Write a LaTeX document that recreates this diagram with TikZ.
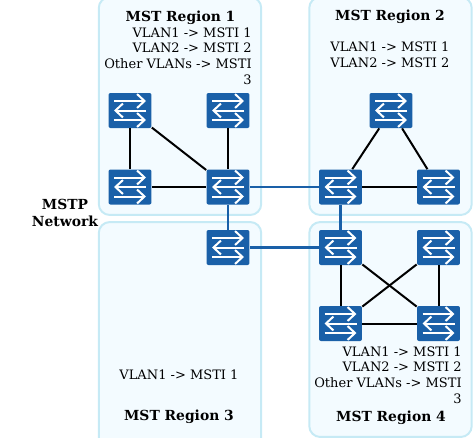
\documentclass[tikz,border=0pt]{standalone}
\usepackage{fontspec}
\setmainfont{DejaVu Serif}
\usepackage{xcolor}
\usetikzlibrary{arrows.meta}
\definecolor{regionfill}{HTML}{F3FBFF}
\definecolor{regionline}{HTML}{C6EAF5}
\definecolor{switchblue}{HTML}{1A60A8}

\begin{document}
\begin{tikzpicture}[
  x=0.02cm, y=-0.02cm,
  region/.style={
    draw=regionline,
    fill=regionfill,
    line width=0.04cm,
    rounded corners=0.22cm,
    minimum width=3.25cm,
    inner sep=0pt
  },
  switchbox/.style={
    fill=switchblue,
    rounded corners=0.04cm,
    minimum width=0.86cm,
    minimum height=0.7cm,
    inner sep=0pt,
    path picture={
      \begin{scope}[shift={(path picture bounding box.center)}, white, line width=0.04cm,
          swarrow/.style={-{Straight Barb[length=0.15cm,width=0.28cm,line width=0.04cm]}}]
        \draw[swarrow] (-16,-9.5) -- (16,-9.5);
        \draw[swarrow] (16,0) -- (-16,0);
        \draw[swarrow] (-16,9.5) -- (16,9.5);
      \end{scope}
    }
  },
  link/.style={black, line width=0.04cm},
  trunk/.style={switchblue, line width=0.05cm},
  title/.style={font=\fontsize{7.9}{10}\selectfont\bfseries, inner sep=0pt},
  vlan/.style={font=\fontsize{7.4}{9}\selectfont, inner sep=0pt}
]
  \useasboundingbox (0,0) rectangle (474,437);

  % regions
  \node[region, minimum height=4.36cm] (regionone) at (180,106) {};
  \node[region, minimum height=4.36cm] (regiontwo) at (390.5,106) {};
  \node[region, minimum height=4.6cm] (regionthree) at (180,337) {};
  \node[region, minimum height=4.3cm] (regionfour) at (390.5,329.5) {};

  % switches
  \node[switchbox] (swa) at (130,110.5) {};
  \node[switchbox] (swb) at (228,110.5) {};
  \node[switchbox] (swc) at (130,187) {};
  \node[switchbox] (swd) at (228,187) {};
  \node[switchbox] (swe) at (391,110.5) {};
  \node[switchbox] (swf) at (340.5,187) {};
  \node[switchbox] (swg) at (438.5,187) {};
  \node[switchbox] (swh) at (228,247.5) {};
  \node[switchbox] (swi) at (340.5,247.5) {};
  \node[switchbox] (swj) at (438.5,247.5) {};
  \node[switchbox] (swk) at (340.5,323.5) {};
  \node[switchbox] (swl) at (438.5,323.5) {};

  \draw[link] (swa) -- (swc);
  \draw[link] (swa) -- (swd);
  \draw[link] (swb) -- (swd);
  \draw[link] (swc) -- (swd);
  \draw[link] (swe) -- (swf);
  \draw[link] (swe) -- (swg);
  \draw[link] (swf) -- (swg);
  \draw[link] (swi) -- (swk);
  \draw[link] (swi) -- (swl);
  \draw[link] (swj) -- (swk);
  \draw[link] (swj) -- (swl);
  \draw[link] (swk) -- (swl);

  \draw[trunk] (swd) -- (swf);
  \draw[trunk] (swd) -- (swh);
  \draw[trunk] (swf) -- (swi);
  \draw[trunk] (swh) -- (swi);

  % labels
  \node[title] (titleone) at (180.5,18) {MST Region 1};
  \node[title] (titletwo) at (390,17) {MST Region 2};
  \node[title] (titlethree) at (179,417) {MST Region 3};
  \node[title] (titlefour) at (391,418) {MST Region 4};
  \node[vlan, align=right, anchor=east] (vlanone) at (252,56) {VLAN1 -> MSTI 1\\VLAN2 -> MSTI 2\\Other VLANs -> MSTI\\3};
  \node[vlan, align=center] (vlantwo) at (390,55) {VLAN1 -> MSTI 1\\VLAN2 -> MSTI 2};
  \node[vlan] (vlanthree) at (179,375) {VLAN1 -> MSTI 1};
  \node[vlan, align=right, anchor=east] (vlanfour) at (462,375) {VLAN1 -> MSTI 1\\VLAN2 -> MSTI 2\\Other VLANs -> MSTI\\3};
  \node[title, align=center] (mstp) at (65,213) {MSTP\\Network};
\end{tikzpicture}
\end{document}
